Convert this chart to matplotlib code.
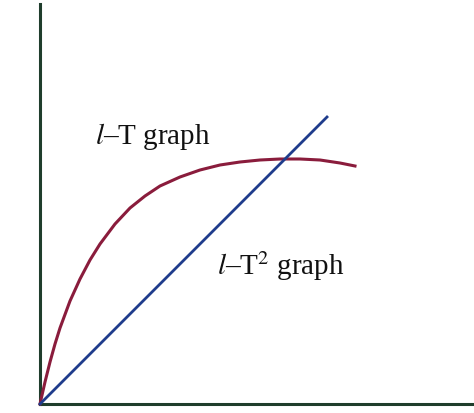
import matplotlib
matplotlib.use("Agg")
import matplotlib.pyplot as plt

plt.rcParams['mathtext.fontset'] = 'stix'
plt.rcParams['font.family'] = ['Liberation Serif', 'DejaVu Serif']

# data (units: arbitrary, origin at axes corner)
lt2_x = [0, 287]
lt2_y = [0, 287]
lt_x = [0, 5, 10, 15, 20, 30, 40, 50, 60, 75, 90, 105, 120, 140, 160, 180, 200, 220, 240, 260, 280, 300, 315]
lt_y = [0, 22, 42, 60, 76, 103, 125, 144, 160, 180, 196, 208, 218, 227, 234, 239, 242, 244, 245, 245, 244, 241, 238]
label1 = r"$\mathit{l}$–T graph"
label2 = r"$\mathit{l}$–T$^2$ graph"

fig = plt.figure(figsize=(4.74, 4.14), dpi=100)
ax = fig.add_axes([0, 0, 1, 1])
ax.set_xlim(-40, 434)
ax.set_ylim(-9, 405)
ax.axis('off')

axc = '#1f3d2c'
ax.plot([0, 0], [0, 400], color=axc, lw=2.2)
ax.plot([0, 432], [0, 0], color=axc, lw=2.2)
ax.plot(lt_x, lt_y, color='#8a1c3c', lw=2.2)
ax.plot(lt2_x, lt2_y, color='#1f3c8c', lw=2.0)
ax.text(55, 268, label1, fontsize=21, color='#111111', va='center', ha='left')
ax.text(177, 139, label2, fontsize=21, color='#111111', va='center', ha='left')

fig.savefig('out.png', dpi=100)
